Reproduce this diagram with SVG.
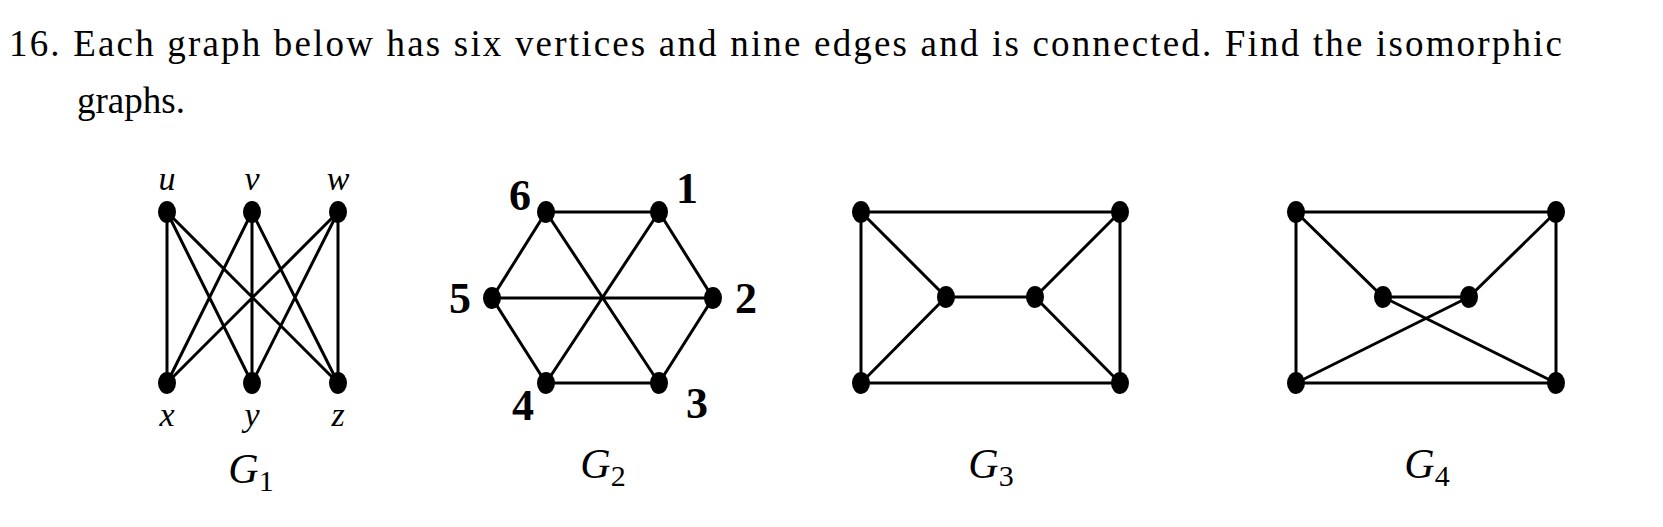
<svg xmlns="http://www.w3.org/2000/svg" width="1663" height="527" viewBox="0 0 1663 527">
<style>
.e{stroke:#000;stroke-width:3;fill:none}
.t{font-family:"Liberation Serif",serif;font-size:37px;fill:#000}
.n{font-family:"Liberation Serif",serif;font-size:44px;font-weight:bold;fill:#000;text-anchor:middle}
.i{font-family:"Liberation Serif",serif;font-size:34px;font-style:italic;fill:#000;text-anchor:middle}
.g{font-family:"Liberation Serif",serif;font-size:42px;font-style:italic;fill:#000;text-anchor:middle}
.s{font-style:normal;font-size:30px}
</style>
<defs><ellipse id="d" rx="9" ry="11" fill="#000"/></defs>
<rect width="1663" height="527" fill="#fff"/>
<text class="t" x="9" y="56" textLength="1553">16. Each graph below has six vertices and nine edges and is connected. Find the isomorphic</text>
<text class="t" x="77" y="113">graphs.</text>
<g id="connectors">
<path class="e" d="M167 212L167 383M167 212L252 383M167 212L338 383M252 212L167 383M252 212L252 383M252 212L338 383M338 212L167 383M338 212L252 383M338 212L338 383"/>
<path class="e" d="M546 212L659 212L713 298L659 383L546 383L492 298ZM492 298L713 298M546 212L659 383M659 212L546 383"/>
<path class="e" d="M861 212L1120 212L1120 383L861 383ZM861 212L946 297L1035 297L1120 212M861 383L946 297M1035 297L1120 383"/>
<path class="e" d="M1296 212L1556 212L1556 383L1296 383ZM1296 212L1383 297L1469 297L1556 212M1383 297L1556 383M1469 297L1296 383"/>
</g>
<g id="G1">
<use href="#d" x="167" y="212"/><use href="#d" x="252" y="212"/><use href="#d" x="338" y="212"/>
<use href="#d" x="167" y="383"/><use href="#d" x="252" y="383"/><use href="#d" x="338" y="383"/>
<text class="i" x="167" y="190">u</text><text class="i" x="252" y="190">v</text><text class="i" x="338" y="190">w</text>
<text class="i" x="167" y="426">x</text><text class="i" x="252" y="426">y</text><text class="i" x="338" y="426">z</text>
<text class="g" x="251" y="483">G<tspan class="s" dy="8">1</tspan></text>
</g>
<g id="G2">
<use href="#d" x="546" y="212"/><use href="#d" x="659" y="212"/><use href="#d" x="713" y="298"/>
<use href="#d" x="659" y="383"/><use href="#d" x="546" y="383"/><use href="#d" x="492" y="298"/>
<text class="n" x="520" y="210">6</text><text class="n" x="687" y="203">1</text>
<text class="n" x="746" y="313">2</text><text class="n" x="697" y="418">3</text>
<text class="n" x="523" y="420">4</text><text class="n" x="460" y="313">5</text>
<text class="g" x="603" y="478">G<tspan class="s" dy="8">2</tspan></text>
</g>
<g id="G3">
<use href="#d" x="861" y="212"/><use href="#d" x="1120" y="212"/><use href="#d" x="861" y="383"/><use href="#d" x="1120" y="383"/>
<use href="#d" x="946" y="297"/><use href="#d" x="1035" y="297"/>
<text class="g" x="991" y="478">G<tspan class="s" dy="8">3</tspan></text>
</g>
<g id="G4">
<use href="#d" x="1296" y="212"/><use href="#d" x="1556" y="212"/><use href="#d" x="1296" y="383"/><use href="#d" x="1556" y="383"/>
<use href="#d" x="1383" y="297"/><use href="#d" x="1469" y="297"/>
<text class="g" x="1427" y="478">G<tspan class="s" dy="8">4</tspan></text>
</g>
</svg>
